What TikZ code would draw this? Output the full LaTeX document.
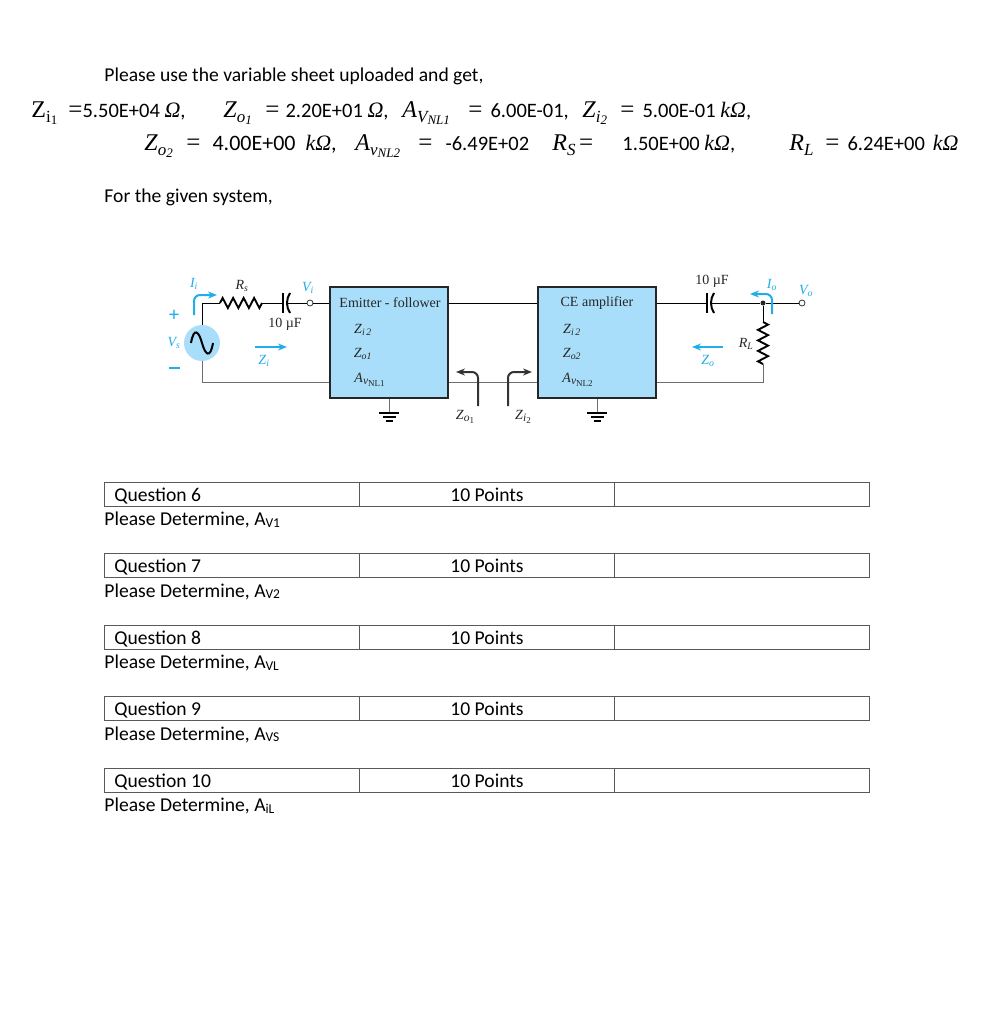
\documentclass[tikz,border=0pt]{standalone}
\usepackage{fontspec}
\setmainfont{Liberation Serif}
\newfontfamily\bodyfont{Carlito}
\newfontfamily\eqfont{Liberation Serif}
\usetikzlibrary{arrows.meta,decorations.pathmorphing}
\definecolor{ampblue}{HTML}{A8DEF9}
\definecolor{arrowblue}{HTML}{1FAEEA}
\definecolor{wiregray}{HTML}{6E6E6E}
\newcommand{\eqvar}[3]{{\eqfont\itshape\fontsize{24}{25}\selectfont #1\raisebox{-4.5pt}{\fontsize{17}{17}\selectfont #2\raisebox{-2.5pt}{\fontsize{13}{13}\selectfont #3}}}}
\newcommand{\equ}{{\eqfont\fontsize{25}{25}\selectfont =}}
\newcommand{\ohm}{{\eqfont\itshape\fontsize{22}{22}\selectfont Ω}}
\newcommand{\kohm}{{\eqfont\itshape\fontsize{22}{22}\selectfont kΩ}}
\newcommand{\ampsub}[3]{\textit{#1}\raisebox{-2.5pt}{\fontsize{11.5}{12}\selectfont\textit{#2}\raisebox{-2pt}{\fontsize{9}{9}\selectfont #3}}}
\tikzset{
  body text/.style={font=\bodyfont\fontsize{19.6}{21}\selectfont,anchor=base west,inner sep=0pt},
  eq text/.style={font=\bodyfont\fontsize{20.5}{22}\selectfont,anchor=base west,inner sep=0pt},
  cell/.style={draw=black!65,line width=.9pt,minimum width=255pt,minimum height=24pt,anchor=north west,inner sep=0pt},
  amp box/.style={draw=black!85,line width=1.8pt,fill=ampblue,minimum width=118pt,minimum height=111pt,inner sep=0pt},
  lbl/.style={font=\fontsize{14}{15}\selectfont,inner sep=0pt,text=black!85},
  blue lbl/.style={lbl,text=arrowblue},
  term/.style={circle,draw=black!80,fill=white,line width=.8pt,minimum size=6pt,inner sep=0pt},
  blue arrow/.style={draw=arrowblue,line width=2pt,rounded corners=6pt,-{Stealth[length=9pt,width=7pt]}},
  dark arrow/.style={draw=black!80,line width=2pt,rounded corners=6pt,-{Stealth[length=9pt,width=7pt]}},
  zigzag res/.style={line width=1.9pt,decorate,decoration={zigzag,segment length=10.5pt,amplitude=5pt}},
  gnd bar/.style={line width=1.6pt}
}
\begin{document}
\begin{tikzpicture}[x=1pt,y=-1pt,line width=.9pt]
\useasboundingbox (0,0) rectangle (987,1024);
\fill[white] (0,0) rectangle (987,1024);
% heading
\begin{scope}
\node[body text] (intro) at (104,82) {Please use the variable sheet uploaded and get,};
\node[body text] (given) at (104,203) {For the given system,};
\node[eq text] (z1a) at (31,118) {{\eqfont\fontsize{24}{25}\selectfont Z\raisebox{-4.5pt}{\fontsize{17}{17}\selectfont i\raisebox{-2.5pt}{\fontsize{13}{13}\selectfont 1}}}};
\node[eq text] (z1b) at (68,118) {\equ 5.50E+04 \ohm,};
\node[eq text] (z2a) at (223,118) {\eqvar{Z}{o}{1}};
\node[eq text] (z2b) at (265,118) {\equ\hspace{6pt}2.20E+01 \ohm,};
\node[eq text] (z3a) at (402,118) {\eqvar{A}{V}{NL1}};
\node[eq text] (z3b) at (468,118) {\equ\hspace{8pt}6.00E-01,};
\node[eq text] (z4a) at (582,118) {\eqvar{Z}{i}{2}};
\node[eq text] (z4b) at (620,118) {\equ\hspace{8pt}5.00E-01 \kohm,};
\node[eq text] (z5a) at (144,151) {\eqvar{Z}{o}{2}};
\node[eq text,font=\bodyfont\fontsize{22}{23}\selectfont] (z5b) at (186,151) {\equ\hspace{12pt}4.00E+00\hspace{10pt}\kohm,};
\node[eq text] (z6a) at (355,151) {\eqvar{A}{v}{NL2}};
\node[eq text] (z6b) at (418,151) {\equ\hspace{13pt}-6.49E+02};
\node[eq text] (z7a) at (552,151) {\eqvar{R}{S}{}\,\equ};
\node[eq text] (z7b) at (622,151) {1.50E+00 \kohm,};
\node[eq text] (z8a) at (789,151) {\eqvar{R}{L}{}};
\node[eq text] (z8b) at (825,151) {\equ\hspace{8pt}6.24E+00\hspace{8pt}\kohm};
\end{scope}
% circuit nodes
\begin{scope}
\node[amp box] (ef) at (389,342.5) {};
\node[amp box] (ce) at (597,342.5) {};
\node[circle,fill=ampblue,minimum size=36pt,inner sep=0pt] (vs) at (202,343) {};
\node[term] (vi) at (310,303) {};
\node[term] (vo) at (802,303) {};
\node[circle,fill=black!85,minimum size=5pt,inner sep=0pt] (dot) at (763,303) {};
\coordinate (topl) at (202,303);
\coordinate (botl) at (202,382);
\coordinate (botr) at (763,382);
\coordinate (rsa) at (220,303);
\coordinate (rsb) at (262,303);
\coordinate (rla) at (763,322);
\coordinate (rlb) at (763,364);
\coordinate (capa) at (283,303);
\coordinate (capb) at (288,303);
\coordinate (capc) at (707,303);
\coordinate (capd) at (712,303);
\coordinate (ga) at (389,413);
\coordinate (gb) at (597,413);
\end{scope}
% circuit wires
\begin{scope}
\draw (vs) -- (topl) -- (rsa);
\draw[zigzag res] (rsa) -- (rsb);
\draw (rsb) -- (capa);
\draw[line width=2pt] (283,293) -- (283,313);
\draw[line width=2pt] (290,293) .. controls (286,299) and (286,307) .. (290,313);
\draw (capb) -- (vi);
\draw (vi) -- (ef.west |- vi);
\draw (ef.east |- vi) -- (ce.west |- vi);
\draw (ce.east |- vi) -- (capc);
\draw[line width=2pt] (707,293) -- (707,313);
\draw[line width=2pt] (714,293) .. controls (710,299) and (710,307) .. (714,313);
\draw (capd) -- (dot) -- (vo);
\draw (dot) -- (rla);
\draw[zigzag res] (rla) -- (rlb);
\draw[wiregray] (vs) -- (botl) -- (ef.west |- botl);
\draw[wiregray] (ef.east |- botl) -- (ce.west |- botl);
\draw[wiregray] (ce.east |- botl) -- (botr) -- (rlb);
\draw[wiregray] (ef.south) -- (ga);
\draw[wiregray] (ce.south) -- (gb);
\foreach \g in {ga,gb}{
  \draw[gnd bar] ([xshift=-10pt]\g) -- ([xshift=10pt]\g);
  \draw[gnd bar] ([xshift=-6.5pt,yshift=-4pt]\g) -- ([xshift=6.5pt,yshift=-4pt]\g);
  \draw[gnd bar,line width=2pt] ([xshift=-3.5pt,yshift=-8pt]\g) -- ([xshift=3.5pt,yshift=-8pt]\g);
}
\draw[line width=2pt] (191,343) .. controls (194,326) and (199,332) .. (202,343) .. controls (205,354) and (210,360) .. (213,343);
\end{scope}
% arrows
\begin{scope}
\coordinate (iia) at (194,315);
\coordinate (iib) at (217,295);
\coordinate (ioa) at (772,314);
\coordinate (iob) at (750,294);
\coordinate (zia) at (255,347);
\coordinate (zib) at (287,347);
\coordinate (zoa) at (723,347);
\coordinate (zob) at (692,347);
\coordinate (zoia) at (478,406);
\coordinate (zoib) at (456,372);
\coordinate (ziia) at (508,406);
\coordinate (ziib) at (532,372);
\draw[blue arrow] (iia) |- (iib);
\draw[blue arrow] (ioa) |- (iob);
\draw[blue arrow] (zia) -- (zib);
\draw[blue arrow] (zoa) -- (zob);
\draw[dark arrow] (zoia) |- (zoib);
\draw[dark arrow] (ziia) |- (ziib);
\end{scope}
% circuit labels
\begin{scope}
\node[blue lbl] (lii) at (194,284) {$\mathit{I_i}$};
\node[lbl] (lrs) at (242,286) {$\mathit{R_s}$};
\node[blue lbl] (lvi) at (308,288) {$\mathit{V_i}$};
\node[lbl] (lc1) at (285,324) {10 µF};
\node[text=arrowblue,font=\bfseries\fontsize{20}{20}\selectfont,inner sep=0pt] (lplus) at (174,316) {+};
\node[blue lbl] (lvs) at (174,343) {$\mathit{V_s}$};
\node[fill=arrowblue,minimum width=11pt,minimum height=2.5pt,inner sep=0pt] (lminus) at (174,368) {};
\node[blue lbl] (lzi) at (264,361) {$\mathit{Z_i}$};
\node[lbl] (lef) at (390,303) {Emitter - follower};
\node[lbl] (lz1) at (363,330) {$\mathit{Z_{i\,2}}$};
\node[lbl] (lz2) at (363,354) {$\mathit{Z_{o1}}$};
\node[lbl,anchor=west] (lz3) at (354,380) {\ampsub{A}{v}{NL1}};
\node[lbl] (lzo1) at (465,417) {\ampsub{Z}{o}{1}};
\node[lbl] (lzi2) at (523,417) {\ampsub{Z}{i}{2}};
\node[lbl] (lce) at (597,303) {CE amplifier};
\node[lbl] (lz4) at (572,330) {$\mathit{Z_{i\,2}}$};
\node[lbl] (lz5) at (572,354) {$\mathit{Z_{o2}}$};
\node[lbl,anchor=west] (lz6) at (562,380) {\ampsub{A}{v}{NL2}};
\node[lbl] (lc2) at (712,281) {10 µF};
\node[blue lbl] (lio) at (772,285) {$\mathit{I_o}$};
\node[blue lbl] (lvo) at (806,291) {$\mathit{V_o}$};
\node[lbl] (lrl) at (746,344) {$\mathit{R_L}$};
\node[blue lbl] (lzo) at (708,361) {$\mathit{Z_o}$};
\end{scope}
% question rows
\foreach \q/\y/\sub in {6/481.5/V1,7/553/V2,8/624.5/VL,9/696/VS,10/767.5/iL}{
  \node[cell] (qa\q) at (104,\y) {};
  \node[cell] (qb\q) at (359,\y) {};
  \node[cell] (qc\q) at (614,\y) {};
  \node[body text] (qt\q) at (114,\y+19.5) {Question \q};
  \node[body text,anchor=base] (qp\q) at (487,\y+19.5) {10 Points};
  \node[body text] (qd\q) at (104,\y+44) {Please Determine, A\raisebox{-1.5pt}{\fontsize{13.5}{14}\selectfont \sub}};
}
\end{tikzpicture}
\end{document}
